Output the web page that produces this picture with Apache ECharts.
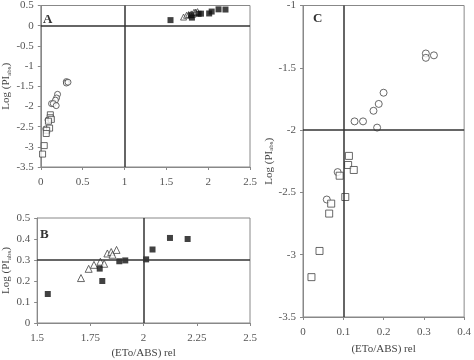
<!DOCTYPE html>
<html><head><meta charset="utf-8">
<script src="https://cdn.jsdelivr.net/npm/echarts@6/dist/echarts.min.js"></script>
<style>html,body{margin:0;padding:0;background:#fff}#c{width:474px;height:360px}</style>
</head><body><div id="c"></div>
<script>
// Open circles (low ETo/ABS cluster)
var circles = [[0.305,-1.385],[0.305,-1.42],[0.325,-1.40],[0.200,-1.70],[0.188,-1.79],[0.175,-1.845],[0.128,-1.93],[0.149,-1.93],[0.184,-1.98],[0.086,-2.337],[0.059,-2.557]];
// Open squares (low ETo/ABS cluster)
var squares = [[0.114,-2.207],[0.112,-2.28],[0.126,-2.32],[0.091,-2.366],[0.105,-2.537],[0.070,-2.59],[0.065,-2.67],[0.041,-2.97],[0.021,-3.18]];
// Open triangles (high cluster)
var triangles = [[1.706,0.214],[1.742,0.258],[1.767,0.277],[1.797,0.292],[1.815,0.282],[1.830,0.331],[1.848,0.338],[1.854,0.325],[1.873,0.348]];
// Filled squares (high cluster)
var filled = [[1.55,0.138],[1.794,0.259],[1.806,0.200],[1.886,0.294],[1.914,0.298],[2.012,0.303],[2.042,0.350],[2.124,0.405],[2.207,0.400]];
// Reference lines per panel [x, y]
var refA = [1, 0];
var refB = [2, 0.301];
var refC = [0.1, -2];
var panelLetters = ['A','B','C'];
var xTitle = '(ETo/ABS) rel';

var F = 'Liberation Serif';
var lab = {color:'#555', fontFamily:F, fontSize:11};
function yName(){ return '{a|Log (PI}{b|abs}{a|)}'; }
var nameRich = {a:{fontFamily:F,fontSize:11,color:'#444'}, b:{fontFamily:F,fontSize:7,color:'#444',verticalAlign:'bottom',padding:[5,0,0,0]}};
function ax(o){
  return Object.assign({
    axisLine:{show:true,onZero:false,lineStyle:{color:'#888',width:1}},
    axisTick:{show:true,inside:false,length:3,lineStyle:{color:'#888'}},
    splitLine:{show:false},
    axisLabel:Object.assign({},lab),
    nameTextStyle:{fontFamily:F,fontSize:11,color:'#444',rich:nameRich}
  }, o);
}
function ml(r){
  return {silent:true,symbol:['none','none'],label:{show:false},
    lineStyle:{color:'#333',width:1.5,type:'solid'},
    data:[{xAxis:r[0]},{yAxis:r[1]}]};
}
function openStyle(){ return {color:'#fff',borderColor:'#444',borderWidth:1}; }
function ser(data, idx, kind, size){
  var s = {type:'scatter', data:data, xAxisIndex:idx, yAxisIndex:idx, z:3};
  if(kind==='circle'){ s.symbol='circle'; s.symbolSize=size||7; s.itemStyle=openStyle(); }
  if(kind==='square'){ s.symbol='rect'; s.symbolSize=size||7; s.itemStyle=openStyle(); }
  if(kind==='tri'){ s.symbol='triangle'; s.symbolSize=size||7; s.itemStyle=openStyle(); }
  if(kind==='filled'){ s.symbol='rect'; s.symbolSize=size||6; s.itemStyle={color:'#111'}; }
  return s;
}
var sA1 = ser(circles,0,'circle',6); sA1.markLine = ml(refA);
var sB1 = ser(triangles,1,'tri'); sB1.markLine = ml(refB);
var sC1 = ser(circles,2,'circle'); sC1.markLine = ml(refC);
var chart = echarts.init(document.getElementById('c'), null, {renderer:'canvas'});
chart.setOption({
  animation:false,
  backgroundColor:'#fff',
  title:[
    {text:panelLetters[0],left:38,top:8,textStyle:{fontFamily:F,fontSize:13,fontWeight:'bold',color:'#333'}},
    {text:panelLetters[1],left:35,top:223,textStyle:{fontFamily:F,fontSize:13,fontWeight:'bold',color:'#333'}},
    {text:panelLetters[2],left:308,top:7,textStyle:{fontFamily:F,fontSize:13,fontWeight:'bold',color:'#333'}}
  ],
  grid:[
    {left:33,top:3,width:217,height:164,show:true,borderColor:'#888',borderWidth:1,backgroundColor:'transparent'},
    {left:30,top:218,width:220,height:109,show:true,borderColor:'#888',borderWidth:1,backgroundColor:'transparent'},
    {left:303,top:3,width:165,height:322,show:true,borderColor:'#888',borderWidth:1,backgroundColor:'transparent'}
  ],
  xAxis:[
    ax({gridIndex:0,type:'value',min:0,max:2.5,interval:0.5,axisLabel:Object.assign({},lab,{margin:10})}),
    ax({gridIndex:1,type:'value',min:1.5,max:2.5,interval:0.25,axisLabel:Object.assign({},lab,{margin:10}),
        name:xTitle,nameLocation:'middle',nameGap:25}),
    ax({gridIndex:2,type:'value',min:0,max:0.4,interval:0.1,axisLabel:Object.assign({},lab,{margin:10}),
        name:xTitle,nameLocation:'middle',nameGap:27})
  ],
  yAxis:[
    ax({gridIndex:0,type:'value',min:-3.5,max:0.5,interval:0.5,name:yName(),nameLocation:'middle',nameRotate:90,nameGap:25,axisLabel:Object.assign({},lab,{margin:7})}),
    ax({gridIndex:1,type:'value',min:0,max:0.5,interval:0.1,name:yName(),nameLocation:'middle',nameRotate:90,nameGap:22,axisLabel:Object.assign({},lab,{margin:7})}),
    ax({gridIndex:2,type:'value',min:-3.5,max:-1,interval:0.5,name:yName(),nameLocation:'middle',nameRotate:90,nameGap:28,axisLabel:Object.assign({},lab,{margin:7})})
  ],
  series:[
    sA1,
    ser(squares,0,'square',6),
    ser(triangles,0,'tri',6),
    ser(filled,0,'filled',6),
    sB1,
    ser(filled,1,'filled'),
    sC1,
    ser(squares,2,'square')
  ]
});
</script>
</body></html>
